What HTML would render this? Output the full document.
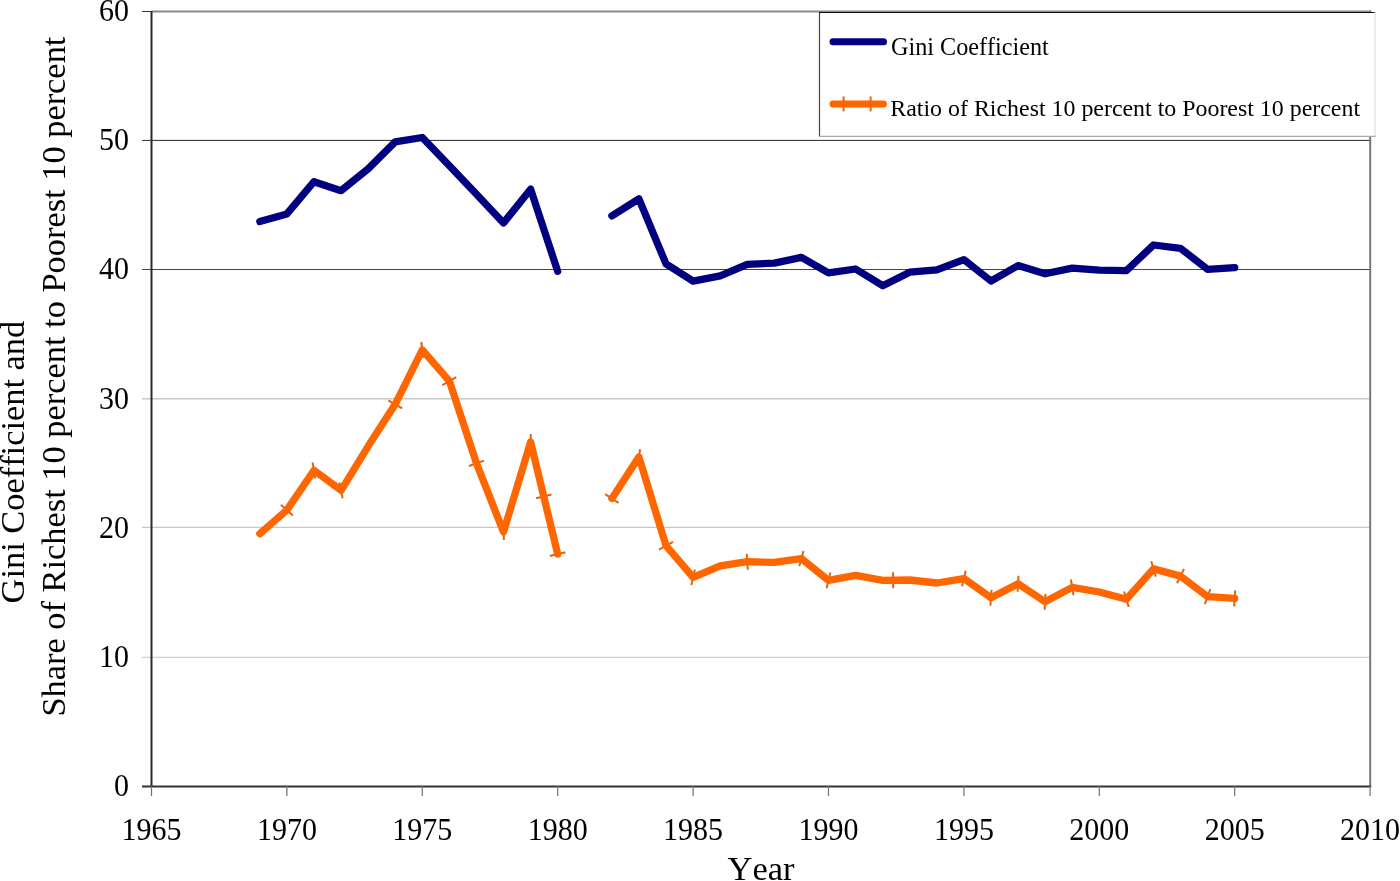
<!DOCTYPE html>
<html><head><meta charset="utf-8"><title>Gini Coefficient chart</title>
<style>
html,body{margin:0;padding:0;background:#fff;}
body{width:1400px;height:881px;overflow:hidden;position:relative;}
svg{position:absolute;left:0;top:0;display:block;}
text{font-family:"Liberation Serif","Times New Roman",serif;fill:#000;font-variant-ligatures:none;font-kerning:none;}
.t{font-size:30px;}
.l{font-size:24px;}
.a{font-size:34.4px;}
.ay{font-size:34.4px;}
</style></head>
<body>
<svg width="1400" height="881" viewBox="0 0 1400 881">
<line x1="142" y1="657.4" x2="1370" y2="657.4" stroke="#cfcfcf" stroke-width="1.4"/>
<line x1="142" y1="527.4" x2="1370" y2="527.4" stroke="#c8c8c8" stroke-width="1.4"/>
<line x1="142" y1="398.8" x2="1370" y2="398.8" stroke="#c8c8c8" stroke-width="1.4"/>
<line x1="142" y1="269.5" x2="1370" y2="269.5" stroke="#444" stroke-width="1.0"/>
<line x1="142" y1="140.4" x2="1370" y2="140.4" stroke="#2a2a2a" stroke-width="1.0"/>
<line x1="151.5" y1="11.5" x2="1371" y2="11.5" stroke="#888" stroke-width="2"/>
<line x1="142" y1="11.5" x2="151.5" y2="11.5" stroke="#333" stroke-width="1"/>
<line x1="1370.2" y1="10.5" x2="1370.2" y2="786.5" stroke="#777" stroke-width="2"/>
<line x1="142" y1="786.5" x2="1371.2" y2="786.5" stroke="#333" stroke-width="2"/>
<line x1="151.5" y1="11" x2="151.5" y2="787" stroke="#2a2a2a" stroke-width="2"/>
<line x1="151.5" y1="786" x2="151.5" y2="796" stroke="#707070" stroke-width="1.2"/>
<text transform="translate(151.5,839.7) scale(1,1.075)" text-anchor="middle" class="t">1965</text>
<line x1="286.9" y1="786" x2="286.9" y2="796" stroke="#707070" stroke-width="1.2"/>
<text transform="translate(286.9,839.7) scale(1,1.075)" text-anchor="middle" class="t">1970</text>
<line x1="422.3" y1="786" x2="422.3" y2="796" stroke="#707070" stroke-width="1.2"/>
<text transform="translate(422.3,839.7) scale(1,1.075)" text-anchor="middle" class="t">1975</text>
<line x1="557.7" y1="786" x2="557.7" y2="796" stroke="#707070" stroke-width="1.2"/>
<text transform="translate(557.7,839.7) scale(1,1.075)" text-anchor="middle" class="t">1980</text>
<line x1="693.1" y1="786" x2="693.1" y2="796" stroke="#707070" stroke-width="1.2"/>
<text transform="translate(693.1,839.7) scale(1,1.075)" text-anchor="middle" class="t">1985</text>
<line x1="828.5" y1="786" x2="828.5" y2="796" stroke="#707070" stroke-width="1.2"/>
<text transform="translate(828.5,839.7) scale(1,1.075)" text-anchor="middle" class="t">1990</text>
<line x1="963.9" y1="786" x2="963.9" y2="796" stroke="#707070" stroke-width="1.2"/>
<text transform="translate(963.9,839.7) scale(1,1.075)" text-anchor="middle" class="t">1995</text>
<line x1="1099.3" y1="786" x2="1099.3" y2="796" stroke="#707070" stroke-width="1.2"/>
<text transform="translate(1099.3,839.7) scale(1,1.075)" text-anchor="middle" class="t">2000</text>
<line x1="1234.7" y1="786" x2="1234.7" y2="796" stroke="#707070" stroke-width="1.2"/>
<text transform="translate(1234.7,839.7) scale(1,1.075)" text-anchor="middle" class="t">2005</text>
<line x1="1370.1" y1="786" x2="1370.1" y2="796" stroke="#707070" stroke-width="1.2"/>
<text transform="translate(1370.1,839.7) scale(1,1.075)" text-anchor="middle" class="t">2010</text>
<text transform="translate(129,796.2) scale(1,1.075)" text-anchor="end" class="t">0</text>
<text transform="translate(129,667.0) scale(1,1.075)" text-anchor="end" class="t">10</text>
<text transform="translate(129,537.8) scale(1,1.075)" text-anchor="end" class="t">20</text>
<text transform="translate(129,408.5) scale(1,1.075)" text-anchor="end" class="t">30</text>
<text transform="translate(129,279.3) scale(1,1.075)" text-anchor="end" class="t">40</text>
<text transform="translate(129,150.1) scale(1,1.075)" text-anchor="end" class="t">50</text>
<text transform="translate(129,20.9) scale(1,1.075)" text-anchor="end" class="t">60</text>
<polyline points="259.8,221.6 286.9,213.9 314.0,181.7 341.1,190.7 368.1,168.9 395.2,141.9 422.3,137.5 449.4,165.8 476.5,194.3 503.5,222.9 530.6,189.2 557.7,271.3" fill="none" stroke="#000080" stroke-width="7.3" stroke-linejoin="round" stroke-linecap="round"/>
<polyline points="611.9,215.8 638.9,198.8 666.0,263.9 693.1,281.1 720.2,275.9 747.3,264.4 774.3,263.1 801.4,257.4 828.5,272.9 855.6,269.0 882.7,285.7 909.7,272.2 936.8,269.9 963.9,259.7 991.0,281.0 1018.1,265.6 1045.1,273.8 1072.2,268.1 1099.3,270.2 1126.4,270.7 1153.5,245.0 1180.5,248.3 1207.6,269.4 1234.7,267.6" fill="none" stroke="#000080" stroke-width="7.3" stroke-linejoin="round" stroke-linecap="round"/>
<g stroke="#E0640F" stroke-width="2"><line x1="893.0" y1="572.2" x2="893.2" y2="588.2"/>
<line x1="551.5" y1="494.5" x2="536.0" y2="498.2"/></g>
<g stroke="#E0640F" stroke-width="2"><line x1="280.9" y1="504.8" x2="292.9" y2="515.4"/>
<line x1="312.6" y1="462.5" x2="315.3" y2="478.3"/>
<line x1="339.5" y1="482.4" x2="342.6" y2="498.2"/>
<line x1="388.3" y1="400.3" x2="402.2" y2="408.3"/>
<line x1="421.3" y1="342.0" x2="423.3" y2="357.8"/>
<line x1="456.3" y1="377.1" x2="442.4" y2="385.1"/>
<line x1="484.0" y1="460.6" x2="468.9" y2="466.0"/>
<line x1="503.2" y1="524.0" x2="503.9" y2="540.0"/>
<line x1="530.8" y1="434.0" x2="530.4" y2="450.0"/>
<line x1="565.5" y1="552.2" x2="549.9" y2="556.0"/></g>
<polyline points="259.8,533.7 286.9,510.1 314.0,470.4 341.1,490.3 368.1,446.3 395.2,404.3 422.3,349.9 449.4,381.1 476.5,463.3 503.5,532.0 530.6,442.0 557.7,554.1" fill="none" stroke="#FF6600" stroke-width="7.3" stroke-linejoin="round" stroke-linecap="round"/>
<g stroke="#E0640F" stroke-width="2"><line x1="605.2" y1="494.1" x2="618.6" y2="502.9"/>
<line x1="640.1" y1="449.1" x2="637.8" y2="464.9"/>
<line x1="673.0" y1="541.8" x2="659.0" y2="549.6"/>
<line x1="694.9" y1="569.5" x2="691.3" y2="585.1"/>
<line x1="746.8" y1="553.7" x2="747.8" y2="569.7"/>
<line x1="803.5" y1="550.9" x2="799.3" y2="566.3"/>
<line x1="830.4" y1="572.6" x2="826.6" y2="588.2"/>
<line x1="965.7" y1="570.8" x2="962.1" y2="586.4"/>
<line x1="991.5" y1="589.7" x2="990.4" y2="605.7"/>
<line x1="1018.5" y1="575.8" x2="1017.6" y2="591.8"/>
<line x1="1045.5" y1="593.8" x2="1044.7" y2="609.8"/>
<line x1="1070.9" y1="579.5" x2="1073.5" y2="595.3"/>
<line x1="1124.1" y1="591.5" x2="1128.7" y2="606.9"/>
<line x1="1151.2" y1="561.2" x2="1155.8" y2="576.6"/>
<line x1="1184.0" y1="568.9" x2="1177.0" y2="583.3"/>
<line x1="1210.4" y1="589.1" x2="1204.8" y2="604.1"/>
<line x1="1235.2" y1="590.4" x2="1234.2" y2="606.4"/></g>
<polyline points="611.9,498.5 638.9,457.0 666.0,545.7 693.1,577.3 720.2,565.8 747.3,561.7 774.3,562.4 801.4,558.6 828.5,580.4 855.6,575.3 882.7,580.4 909.7,580.0 936.8,583.0 963.9,578.6 991.0,597.7 1018.1,583.8 1045.1,601.8 1072.2,587.4 1099.3,592.0 1126.4,599.2 1153.5,568.9 1180.5,576.1 1207.6,596.6 1234.7,598.4" fill="none" stroke="#FF6600" stroke-width="7.3" stroke-linejoin="round" stroke-linecap="round"/>
<rect x="819.5" y="12.5" width="555" height="124" fill="#fff" stroke="none"/>
<line x1="819.5" y1="12" x2="819.5" y2="136.5" stroke="#444" stroke-width="1.2"/>
<line x1="819" y1="12.5" x2="1375.5" y2="12.5" stroke="#111" stroke-width="1"/>
<line x1="1375" y1="12" x2="1375" y2="136.5" stroke="#ddd" stroke-width="1.2"/>
<line x1="819" y1="136.4" x2="1375.5" y2="136.4" stroke="#aaa" stroke-width="1.2"/>
<line x1="833" y1="41.8" x2="883.5" y2="41.8" stroke="#000080" stroke-width="7" stroke-linecap="round"/>
<text x="891" y="54.6" class="l" style="font-size:24.2px">Gini Coefficient</text>
<line x1="833" y1="103.9" x2="883.5" y2="103.9" stroke="#FF6600" stroke-width="7" stroke-linecap="round"/>
<line x1="843.6" y1="96.4" x2="843.6" y2="111.4" stroke="#E8650F" stroke-width="2"/>
<line x1="870.6" y1="96.4" x2="870.6" y2="111.4" stroke="#E8650F" stroke-width="2"/>
<text x="890.3" y="115.7" class="l" style="font-size:23.9px">Ratio of Richest 10 percent to Poorest 10 percent</text>
<text x="761" y="879.6" text-anchor="middle" class="ay">Year</text>
<text transform="translate(24.2,462.1) rotate(-90)" text-anchor="middle" class="a">Gini Coefficient and</text>
<text transform="translate(65.3,376.6) rotate(-90)" text-anchor="middle" class="a">Share of Richest 10 percent to Poorest 10 percent</text>
</svg>
</body></html>
